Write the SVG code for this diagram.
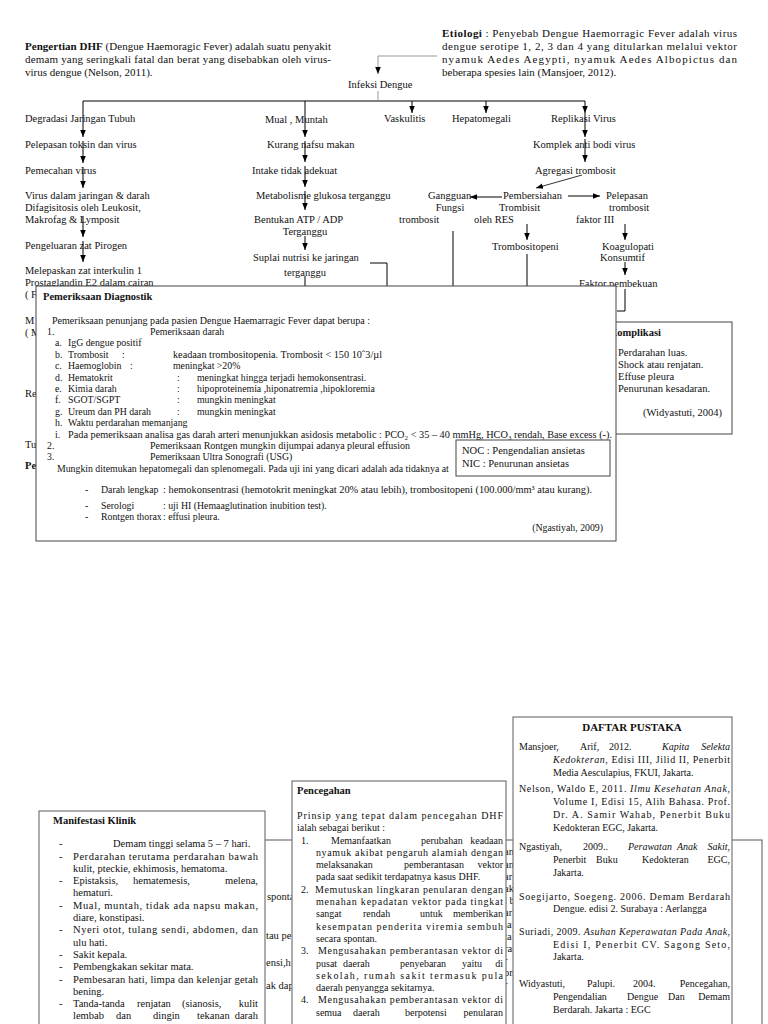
<svg xmlns="http://www.w3.org/2000/svg" width="768" height="1024" viewBox="0 0 768 1024">
<defs>
<marker id="ah" viewBox="0 0 10 10" refX="10" refY="5" markerWidth="7" markerHeight="7" orient="auto" markerUnits="userSpaceOnUse"><path d="M0,1 L10,5 L0,9 z" fill="#000"/></marker>
</defs>
<style>
text{font-family:"Liberation Serif","Times New Roman",serif;fill:#111;}
.t{font-size:11px}
.f{font-size:10.5px}
.g{font-size:10px}
.d{font-size:9.8px}
.b{font-weight:bold}
.i{font-style:italic}
.mid{text-anchor:middle}
.end{text-anchor:end}
.ln{stroke:#000;stroke-width:1;fill:none}
.arr{stroke:#000;stroke-width:1;fill:none;marker-end:url(#ah)}
.gr{stroke:#999;stroke-width:1;fill:none}
.box{fill:#fff;stroke:#444;stroke-width:1}
.box2{fill:#fff;stroke:#777;stroke-width:1.2}
</style>
<rect width="768" height="1024" fill="#fff"/>

<g id="pengertian">
<text class="t" x="25" y="50" textLength="306" lengthAdjust="spacing"><tspan class="b">Pengertian DHF</tspan> (Dengue Haemoragic Fever) adalah suatu penyakit</text>
<text class="t" x="25" y="63" textLength="306" lengthAdjust="spacing">demam yang seringkali fatal dan berat yang disebabkan oleh virus-</text>
<text class="t" x="25" y="76">virus dengue (Nelson, 2011).</text>
</g>
<g id="etiologi">
<text class="t" x="442" y="37" textLength="295" lengthAdjust="spacing"><tspan class="b">Etiologi</tspan> : Penyebab Dengue Haemorragic Fever adalah virus</text>
<text class="t" x="442" y="50" textLength="295" lengthAdjust="spacing">dengue serotipe 1, 2, 3 dan 4 yang ditularkan melalui vektor</text>
<text class="t" x="442" y="63" textLength="295" lengthAdjust="spacing">nyamuk Aedes Aegypti, nyamuk Aedes Albopictus dan</text>
<text class="t" x="442" y="76">beberapa spesies lain (Mansjoer, 2012).</text>
</g>
<g id="infeksi-dengue"><text class="f" x="348" y="88">Infeksi Dengue</text></g>

<g id="left-chain">
<g id="n-degradasi"><text class="f" x="25" y="122">Degradasi Jaringan Tubuh</text></g>
<g id="n-pelepasan-toksin"><text class="f" x="25" y="148">Pelepasan toksin dan virus</text></g>
<g id="n-pemecahan"><text class="f" x="25" y="174">Pemecahan virus</text></g>
<g id="n-virus-jaringan"><text class="f" x="25" y="199">Virus dalam jaringan &amp; darah</text><text class="f" x="25" y="211">Difagisitosis oleh Leukosit,</text><text class="f" x="25" y="223">Makrofag &amp; Lymposit</text></g>
<g id="n-pirogen"><text class="f" x="25" y="249">Pengeluaran zat Pirogen</text></g>
<g id="n-interkulin"><text class="f" x="25" y="274">Melepaskan zat interkulin 1</text><text class="f" x="25" y="286">Prostaglandin E2 dalam cairan</text><text class="f" x="25" y="298">( F</text></g>
<g id="n-hidden-left"><text class="f" x="25" y="324">M</text><text class="f" x="25" y="336">( M</text><text class="f" x="25" y="397">Re</text><text class="f" x="25" y="448">Tu</text><text class="f b" x="25" y="469">Pe</text></g>
</g>

<g id="mid-chain">
<g id="n-mual"><text class="f" x="265" y="123">Mual , Muntah</text></g>
<g id="n-nafsu"><text class="f" x="267" y="148">Kurang nafsu makan</text></g>
<g id="n-intake"><text class="f" x="252" y="174">Intake tidak adekuat</text></g>
<g id="n-metabolisme"><text class="f" x="256" y="199">Metabolisme glukosa terganggu</text></g>
<g id="n-atp"><text class="f" x="254" y="223">Bentukan ATP / ADP</text><text class="f mid" x="305" y="235">Terganggu</text></g>
<g id="n-suplai"><text class="f" x="253" y="261">Suplai nutrisi ke jaringan</text><text class="f mid" x="305" y="276">terganggu</text></g>
</g>

<g id="right-chain">
<g id="n-vaskulitis"><text class="f" x="384" y="122">Vaskulitis</text></g>
<g id="n-hepatomegali"><text class="f" x="452" y="122">Hepatomegali</text></g>
<g id="n-replikasi"><text class="f" x="551" y="122">Replikasi Virus</text></g>
<g id="n-komplek"><text class="f" x="533" y="148">Komplek anti bodi virus</text></g>
<g id="n-agregasi"><text class="f" x="535" y="174">Agregasi trombosit</text></g>
<g id="n-gangguan"><text class="f" x="428" y="199">Gangguan</text><text class="f mid" x="450" y="211">Fungsi</text><text class="f" x="399" y="223">trombosit</text></g>
<g id="n-pembersihan"><text class="f" x="503" y="199">Pembersiahan</text><text class="f" x="499" y="211">Trombisit</text><text class="f" x="474" y="223">oleh RES</text></g>
<g id="n-pelepasan-trombosit"><text class="f" x="606" y="199">Pelepasan</text><text class="f" x="609" y="211">trombosit</text><text class="f" x="576" y="223">faktor III</text></g>
<g id="n-trombositopeni"><text class="f" x="492" y="250">Trombositopeni</text></g>
<g id="n-koagulopati"><text class="f" x="602" y="250">Koagulopati</text><text class="f" x="600" y="261">Konsumtif</text></g>
<g id="n-faktor"><text class="f" x="579" y="287">Faktor pembekuan</text></g>
</g>

<g id="connectors">
<path class="gr" d="M437,56 H378 V74" marker-end="url(#ah)"/>
<path class="gr" d="M378,91 V100"/>
<path class="ln" d="M83,101 H585"/>
<path class="arr" d="M83,101 V137"/>
<path class="arr" d="M83,141 V163"/>
<path class="arr" d="M83,167 V188"/>
<path class="arr" d="M83,216 V237"/>
<path class="arr" d="M83,241 V262"/>
<path class="arr" d="M305,101 V137"/>
<path class="arr" d="M305,141 V162"/>
<path class="arr" d="M305,166 V187"/>
<path class="arr" d="M305,191 V210"/>
<path class="arr" d="M305,236 V250"/>
<path class="ln" d="M305,276 V286"/>
<path class="ln" d="M370,263 H387 V286"/>
<path class="arr" d="M412,101 V113"/>
<path class="arr" d="M486,101 V113"/>
<path class="arr" d="M585,101 V113"/>
<path class="arr" d="M585,113 V137"/>
<path class="arr" d="M585,139 V162"/>
<path class="arr" d="M582,175 L536,188" style="stroke-width:0.8"/>
<path class="arr" d="M502,197 H470"/>
<path class="arr" d="M568,196 H600"/>
<path class="arr" d="M527,224 V240"/>
<path class="arr" d="M625,224 V240"/>
<path class="arr" d="M625,262 V275"/>
<path class="ln" d="M453,231 V286"/>
<path class="ln" d="M527,254 V286"/>
<path class="ln" d="M625,289 V311 H617"/>
</g>

<g id="komplikasi">
<rect class="box" x="560" y="322" width="172" height="112"/>
<text class="f b" x="609" y="336">Komplikasi</text>
<text class="f" x="618" y="356">Perdarahan luas.</text>
<text class="f" x="618" y="368">Shock atau renjatan.</text>
<text class="f" x="618" y="380">Effuse pleura</text>
<text class="f" x="618" y="392">Penurunan kesadaran.</text>
<text class="f end" x="722" y="416">(Widyastuti, 2004)</text>
</g>

<g id="pemeriksaan-diagnostik">
<rect class="box" x="36" y="286" width="580" height="255"/>
<text class="f b" x="43" y="300">Pemeriksaan Diagnostik</text>
<text class="d" x="52" y="323.5" textLength="318" lengthAdjust="spacingAndGlyphs">Pemeriksaan penunjang pada pasien Dengue Haemarragic Fever dapat berupa :</text>
<text class="d" x="47" y="335">1.</text><text class="d" x="150" y="335">Pemeriksaan darah</text>
<text class="d" x="55" y="346.4">a.</text><text class="d" x="68" y="346.4">IgG dengue positif</text>
<text class="d" x="55" y="357.8">b.</text><text class="d" x="68" y="357.8">Trombosit</text><text class="d" x="122" y="357.8">:</text><text class="d" x="173" y="357.8" textLength="209" lengthAdjust="spacingAndGlyphs">keadaan trombositopenia. Trombosit &lt; 150 10ˆ3/µl</text>
<text class="d" x="55" y="369.2">c.</text><text class="d" x="68" y="369.2">Haemoglobin</text><text class="d" x="130" y="369.2">:</text><text class="d" x="173" y="369.2">meningkat &gt;20%</text>
<text class="d" x="55" y="380.6">d.</text><text class="d" x="68" y="380.6">Hematokrit</text><text class="d" x="177" y="380.6">:</text><text class="d" x="197" y="380.6">meningkat hingga terjadi hemokonsentrasi.</text>
<text class="d" x="55" y="392">e.</text><text class="d" x="68" y="392">Kimia darah</text><text class="d" x="177" y="392">:</text><text class="d" x="197" y="392">hipoproteinemia ,hiponatremia ,hipokloremia</text>
<text class="d" x="55" y="403.4">f.</text><text class="d" x="68" y="403.4">SGOT/SGPT</text><text class="d" x="177" y="403.4">:</text><text class="d" x="197" y="403.4">mungkin meningkat</text>
<text class="d" x="55" y="414.8">g.</text><text class="d" x="68" y="414.8">Ureum dan PH darah</text><text class="d" x="177" y="414.8">:</text><text class="d" x="197" y="414.8">mungkin meningkat</text>
<text class="d" x="55" y="426.2">h.</text><text class="d" x="68" y="426.2">Waktu perdarahan memanjang</text>
<text class="d" x="55" y="437.6">i.</text><text class="d" x="68" y="437.6" textLength="544" lengthAdjust="spacingAndGlyphs">Pada pemeriksaan analisa gas darah arteri menunjukkan asidosis metabolic : PCO₂ &lt; 35 – 40 mmHg, HCO₃ rendah, Base excess (-).</text>
<text class="d" x="47" y="449">2.</text><text class="d" x="150" y="449" textLength="260" lengthAdjust="spacingAndGlyphs">Pemeriksaan Rontgen mungkin dijumpai adanya pleural effusion</text>
<text class="d" x="47" y="460.4">3.</text><text class="d" x="150" y="460.4">Pemeriksaan Ultra Sonografi (USG)</text>
<text class="d" x="57" y="471.8">Mungkin ditemukan hepatomegali dan splenomegali. Pada uji ini yang dicari adalah ada tidaknya at</text>
<text class="d" x="85" y="492.5">-</text><text class="d" x="101" y="492.5">Darah lengkap</text><text class="d" x="163" y="492.5" textLength="429" lengthAdjust="spacingAndGlyphs">: hemokonsentrasi (hemotokrit meningkat 20% atau lebih), trombositopeni (100.000/mm³ atau kurang).</text>
<text class="d" x="85" y="508.5">-</text><text class="d" x="101" y="508.5">Serologi</text><text class="d" x="163" y="508.5">: uji HI (Hemaaglutination inubition test).</text>
<text class="d" x="85" y="519.5">-</text><text class="d" x="101" y="519.5">Rontgen thorax</text><text class="d" x="163" y="519.5">: effusi pleura.</text>
<text class="d end" x="603" y="531">(Ngastiyah, 2009)</text>
</g>

<g id="noc-nic">
<rect class="box" x="456" y="440" width="154" height="36"/>
<text class="f" x="462" y="454">NOC : Pengendalian ansietas</text>
<text class="f" x="462" y="467">NIC : Penurunan ansietas</text>
</g>

<g id="hidden-box">
<rect fill="#fff" stroke="#555" stroke-width="1" x="250" y="840" width="512" height="200"/>
<text class="f" x="267" y="900">spontan</text>
<text class="f" x="266" y="939">tau pe</text>
<text class="f" x="266" y="966">ensi,h</text>
<text class="f" x="266" y="989">ak dap</text>
<text class="f" x="504" y="855">an</text>
<text class="f" x="504" y="868">an</text>
<text class="f" x="504" y="880">ar</text>
<text class="f" x="504" y="892">ak</text>
<text class="f" x="504" y="904">l b</text>
<text class="f" x="504" y="916">ar</text>
<text class="f" x="504" y="928">ia</text>
<text class="f" x="504" y="940">ta</text>
<text class="f" x="504" y="952">ra</text>
<text class="f" x="504" y="964">r</text>
<text class="f" x="504" y="976">on</text>
<text class="f" x="504" y="988">r</text>
</g>

<g id="manifestasi-klinik">
<rect class="box2" x="39" y="811" width="226" height="230"/>
<text class="f b" x="53" y="823.5">Manifestasi Klinik</text>
<text class="f" x="59" y="846.5">-</text><text class="f" x="113" y="846.5">Demam tinggi selama 5 – 7 hari.</text>
<text class="f" x="59" y="859.5">-</text><text class="f" x="73" y="859.5" textLength="185" lengthAdjust="spacing">Perdarahan terutama perdarahan bawah</text>
<text class="f" x="73" y="871.8">kulit, pteckie, ekhimosis, hematoma.</text>
<text class="f" x="59" y="884.1">-</text><text class="f" x="73" y="884.1">Epistaksis,</text><text class="f" x="133" y="884.1">hematemesis,</text><text class="f end" x="258" y="884.1">melena,</text>
<text class="f" x="73" y="896.4">hematuri.</text>
<text class="f" x="59" y="908.7">-</text><text class="f" x="73" y="908.7" textLength="185" lengthAdjust="spacing">Mual, muntah, tidak ada napsu makan,</text>
<text class="f" x="73" y="921">diare, konstipasi.</text>
<text class="f" x="59" y="933.3">-</text><text class="f" x="73" y="933.3" textLength="185" lengthAdjust="spacing">Nyeri otot, tulang sendi, abdomen, dan</text>
<text class="f" x="73" y="945.6">ulu hati.</text>
<text class="f" x="59" y="957.9">-</text><text class="f" x="73" y="957.9">Sakit kepala.</text>
<text class="f" x="59" y="970.2">-</text><text class="f" x="73" y="970.2">Pembengkakan sekitar mata.</text>
<text class="f" x="59" y="982.5">-</text><text class="f" x="73" y="982.5" textLength="185" lengthAdjust="spacing">Pembesaran hati, limpa dan kelenjar getah</text>
<text class="f" x="73" y="994.8">bening.</text>
<text class="f" x="59" y="1007.1">-</text><text class="f" x="73" y="1007.1">Tanda-tanda</text><text class="f" x="137" y="1007.1">renjatan</text><text class="f" x="182" y="1007.1">(sianosis,</text><text class="f end" x="258" y="1007.1">kulit</text>
<text class="f" x="73" y="1019.4">lembab</text><text class="f" x="116" y="1019.4">dan</text><text class="f" x="153" y="1019.4">dingin</text><text class="f" x="197" y="1019.4">tekanan</text><text class="f end" x="258" y="1019.4">darah</text>
</g>

<g id="pencegahan">
<rect class="box2" x="292" y="781" width="214" height="260"/>
<text class="f b" x="297" y="793.5">Pencegahan</text>
<text class="g" x="297" y="818.5" textLength="206" lengthAdjust="spacing">Prinsip yang tepat dalam pencegahan DHF</text>
<text class="g" x="297" y="831">ialah sebagai berikut :</text>
<text class="g" x="301" y="843.5">1.</text><text class="g" x="331" y="843.5">Memanfaatkan</text><text class="g" x="421" y="843.5">perubahan</text><text class="g end" x="503" y="843.5">keadaan</text>
<text class="g" x="316" y="855.8" textLength="187" lengthAdjust="spacing">nyamuk akibat pengaruh alamiah dengan</text>
<text class="g" x="316" y="868.1">melaksanakan</text><text class="g" x="404" y="868.1">pemberantasan</text><text class="g end" x="503" y="868.1">vektor</text>
<text class="g" x="316" y="880.4">pada saat sedikit terdapatnya kasus DHF.</text>
<text class="g" x="301" y="892.7">2.</text><text class="g" x="315" y="892.7" textLength="188" lengthAdjust="spacing">Memutuskan lingkaran penularan dengan</text>
<text class="g" x="316" y="905" textLength="187" lengthAdjust="spacing">menahan kepadatan vektor pada tingkat</text>
<text class="g" x="316" y="917.3">sangat</text><text class="g" x="363" y="917.3">rendah</text><text class="g" x="420" y="917.3">untuk</text><text class="g end" x="503" y="917.3">memberikan</text>
<text class="g" x="316" y="929.6" textLength="187" lengthAdjust="spacing">kesempatan penderita viremia sembuh</text>
<text class="g" x="316" y="941.9">secara spontan.</text>
<text class="g" x="301" y="954.2">3.</text><text class="g" x="318" y="954.2" textLength="185" lengthAdjust="spacing">Mengusahakan pemberantasan vektor di</text>
<text class="g" x="316" y="966.5">pusat</text><text class="g" x="343" y="966.5">daerah</text><text class="g" x="400" y="966.5">penyebaran</text><text class="g" x="462" y="966.5">yaitu</text><text class="g end" x="503" y="966.5">di</text>
<text class="g" x="316" y="978.8" textLength="187" lengthAdjust="spacing">sekolah, rumah sakit termasuk pula</text>
<text class="g" x="316" y="991.1">daerah penyangga sekitarnya.</text>
<text class="g" x="301" y="1003.4">4.</text><text class="g" x="318" y="1003.4" textLength="185" lengthAdjust="spacing">Mengusahakan pemberantasan vektor di</text>
<text class="g" x="316" y="1015.7">semua</text><text class="g" x="353" y="1015.7">daerah</text><text class="g" x="405" y="1015.7">berpotensi</text><text class="g end" x="503" y="1015.7">penularan</text>
</g>

<g id="daftar-pustaka">
<rect class="box2" x="513" y="717" width="219" height="320"/>
<text class="t b mid" x="632" y="731">DAFTAR PUSTAKA</text>
<text class="g" x="519" y="750">Mansjoer,</text><text class="g" x="580" y="750">Arif,</text><text class="g" x="609" y="750">2012.</text><text class="g i" x="662" y="750">Kapita</text><text class="g i end" x="730" y="750">Selekta</text>
<text class="g" x="553" y="763" textLength="177" lengthAdjust="spacing"><tspan class="i">Kedokteran</tspan>, Edisi III, Jilid II, Penerbit</text>
<text class="g" x="553" y="776">Media Aesculapius, FKUI, Jakarta.</text>
<text class="g" x="519" y="792" textLength="211" lengthAdjust="spacing">Nelson, Waldo E, 2011. <tspan class="i">Ilmu Kesehatan Anak</tspan>,</text>
<text class="g" x="553" y="805" textLength="177" lengthAdjust="spacing">Volume I, Edisi 15, Alih Bahasa. Prof.</text>
<text class="g" x="553" y="818" textLength="177" lengthAdjust="spacing">Dr. A. Samir Wahab, Penerbit Buku</text>
<text class="g" x="553" y="831">Kedokteran EGC, Jakarta.</text>
<text class="g" x="519" y="850">Ngastiyah,</text><text class="g" x="583" y="850">2009..</text><text class="g i" x="628" y="850">Perawatan</text><text class="g i" x="677" y="850">Anak</text><text class="g i end" x="730" y="850">Sakit,</text>
<text class="g" x="553" y="863">Penerbit</text><text class="g" x="596" y="863">Buku</text><text class="g" x="642" y="863">Kedokteran</text><text class="g end" x="730" y="863">EGC,</text>
<text class="g" x="553" y="876">Jakarta.</text>
<text class="g" x="519" y="899.5" textLength="211" lengthAdjust="spacing">Soegijarto, Soegeng. 2006. Demam Berdarah</text>
<text class="g" x="553" y="912">Dengue. edisi 2. Surabaya : Aerlangga</text>
<text class="g" x="519" y="934.5" textLength="211" lengthAdjust="spacing">Suriadi, 2009. <tspan class="i">Asuhan Keperawatan Pada Anak</tspan>,</text>
<text class="g" x="553" y="947.5" textLength="177" lengthAdjust="spacing">Edisi I, Penerbit CV. Sagong Seto,</text>
<text class="g" x="553" y="960">Jakarta.</text>
<text class="g" x="519" y="987">Widyastuti,</text><text class="g" x="587" y="987">Palupi.</text><text class="g" x="633" y="987">2004.</text><text class="g end" x="730" y="987">Pencegahan,</text>
<text class="g" x="553" y="1000">Pengendalian</text><text class="g" x="627" y="1000">Dengue</text><text class="g" x="668" y="1000">Dan</text><text class="g end" x="730" y="1000">Demam</text>
<text class="g" x="553" y="1012.5">Berdarah. Jakarta : EGC</text>
</g>
</svg>
